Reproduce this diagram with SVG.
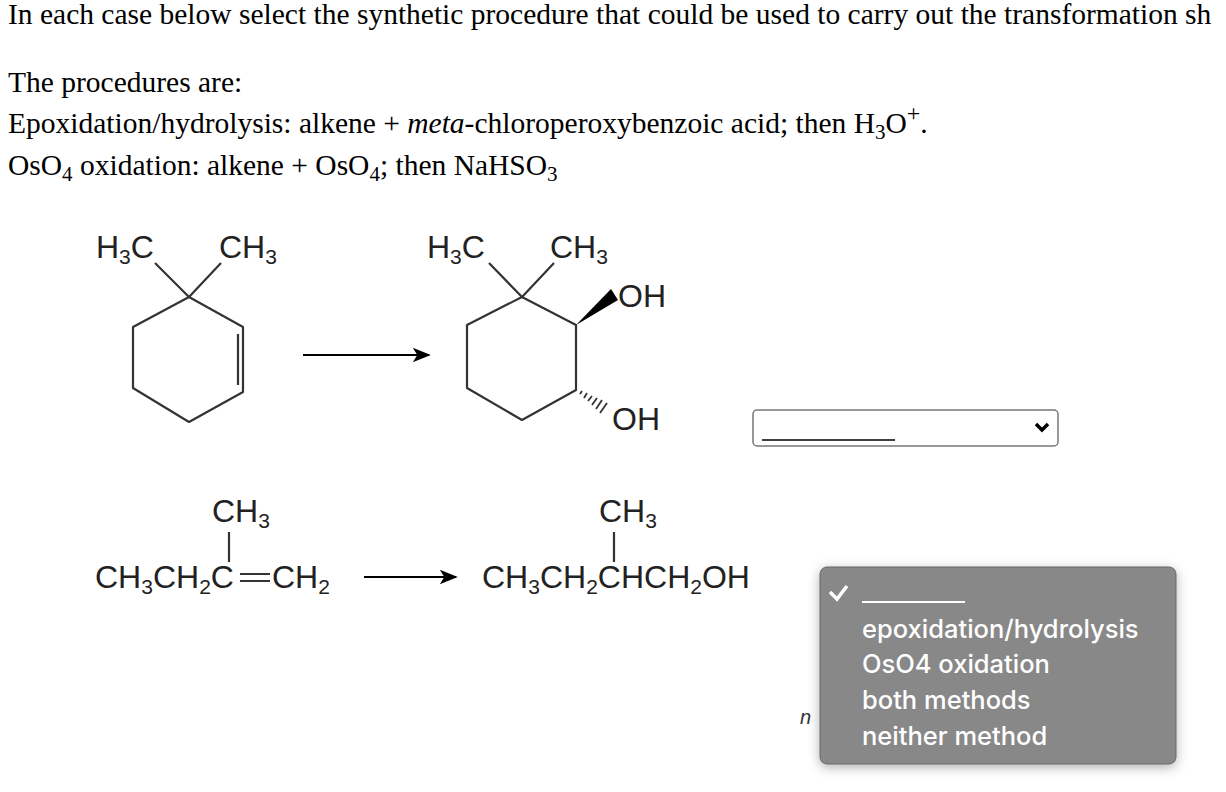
<svg xmlns="http://www.w3.org/2000/svg" width="1226" height="792" viewBox="0 0 1226 792">
<defs>
<style>
.hd{font-family:"Liberation Serif",serif;font-size:29.5px;fill:#000}
.ch{font-family:"Liberation Sans",Arial,sans-serif;font-size:32px;fill:#222}
.b{stroke:#333;stroke-width:2.2;fill:none;stroke-linejoin:round}
.it{font-family:Inter,"Liberation Sans",sans-serif;font-size:25.5px;fill:#fff;font-weight:500}
</style>
<marker id="ah" viewBox="0 0 10 10" refX="9" refY="5" markerWidth="26" markerHeight="18" markerUnits="userSpaceOnUse" orient="auto"><path d="M0,1 L10,5 L0,9 L2.5,5 Z" fill="#000"/></marker>
<filter id="sh" x="-10%" y="-10%" width="120%" height="130%"><feDropShadow dx="0" dy="3" stdDeviation="6" flood-opacity="0.3"/></filter>
</defs>
<rect width="1226" height="792" fill="#fff"/>
<g id="header">
<text class="hd" x="8" y="24">In each case below select the synthetic procedure that could be used to carry out the transformation sh</text>
<text class="hd" x="8" y="92">The procedures are:</text>
<text class="hd" x="8" y="133">Epoxidation/hydrolysis: alkene + <tspan font-style="italic">meta</tspan>-chloroperoxybenzoic acid; then H<tspan font-size="21" dy="6">3</tspan><tspan dy="-6">O</tspan><tspan font-size="24" dy="-12">+</tspan><tspan dy="12">.</tspan></text>
<text class="hd" x="8" y="175">OsO<tspan font-size="21" dy="6">4</tspan><tspan dy="-6"> oxidation: alkene + OsO</tspan><tspan font-size="21" dy="6">4</tspan><tspan dy="-6">; then NaHSO</tspan><tspan font-size="21" dy="6">3</tspan></text>
</g>
<g id="reactant1">
<path class="b" d="M189,297 L133,327 L133,388 L189,422 L243,392 L243,327 Z M238,334 L238,385 M189,297 L155,263 M189,297 L221,263"/>
<text class="ch" x="96" y="258">H<tspan font-size="21" dy="6">3</tspan><tspan dy="-6">C</tspan></text>
<text class="ch" x="219" y="258">CH<tspan font-size="21" dy="6">3</tspan></text>
</g>
<g id="product1">
<path class="b" d="M522,297 L467,325 L467,388 L522,420 L576,390 L576,325 Z M522,297 L489,263 M522,297 L554,263"/>
<path d="M576,325 L611,289 L618,300 Z" fill="#000"/>
<path stroke="#333" stroke-width="1.8" d="M580,394 L582,391 M584,398 L587,393 M588,401 L592,396 M592,405 L597,398 M596,409 L602,400 M600,413 L607,403"/>
<text class="ch" x="427" y="258">H<tspan font-size="21" dy="6">3</tspan><tspan dy="-6">C</tspan></text>
<text class="ch" x="550" y="258">CH<tspan font-size="21" dy="6">3</tspan></text>
<text class="ch" x="618" y="307">OH</text>
<text class="ch" x="612" y="430">OH</text>
</g>
<g id="reactant2">
<text class="ch" x="212" y="522">CH<tspan font-size="21" dy="6">3</tspan></text>
<text class="ch" x="95" y="588">CH<tspan font-size="21" dy="6">3</tspan><tspan dy="-6">CH</tspan><tspan font-size="21" dy="6">2</tspan><tspan dy="-6">C</tspan></text>
<path class="b" d="M229,532 L229,562 M240,574 L270,574 M240,581 L270,581"/>
<text class="ch" x="272" y="588">CH<tspan font-size="21" dy="6">2</tspan></text>
</g>
<g id="product2">
<text class="ch" x="599" y="522">CH<tspan font-size="21" dy="6">3</tspan></text>
<path class="b" d="M614,532 L614,562"/>
<text class="ch" x="482" y="588">CH<tspan font-size="21" dy="6">3</tspan><tspan dy="-6">CH</tspan><tspan font-size="21" dy="6">2</tspan><tspan dy="-6">CHCH</tspan><tspan font-size="21" dy="6">2</tspan><tspan dy="-6">OH</tspan></text>
</g>
<g id="connectors">
<line x1="303" y1="355" x2="429" y2="355" stroke="#000" stroke-width="2" marker-end="url(#ah)"/>
<line x1="364" y1="577" x2="456" y2="577" stroke="#000" stroke-width="2" marker-end="url(#ah)"/>
</g>
<g id="select1">
<rect x="753" y="410" width="305" height="36" rx="4" fill="#fff" stroke="#777" stroke-width="1.5"/>
<line x1="762" y1="440" x2="895" y2="440" stroke="#000" stroke-width="1.5"/>
<path d="M1036,424 L1042,430 L1048,424" fill="none" stroke="#000" stroke-width="3.5"/>
</g>
<g id="popup">
<text x="800" y="724" font-family="Liberation Sans,sans-serif" font-size="20" font-style="italic" fill="#333">n</text>
<rect x="820" y="567" width="356" height="197" rx="7" fill="#888" stroke="#666" stroke-width="1" filter="url(#sh)"/>
<path d="M830,592 L837,599 L847,586" fill="none" stroke="#fff" stroke-width="3.5"/>
<line x1="862" y1="602" x2="965" y2="602" stroke="#fff" stroke-width="1.8"/>
<text class="it" x="862" y="638">epoxidation/hydrolysis</text>
<text class="it" x="862" y="673">OsO4 oxidation</text>
<text class="it" x="862" y="709">both methods</text>
<text class="it" x="862" y="745">neither method</text>
</g>
</svg>
